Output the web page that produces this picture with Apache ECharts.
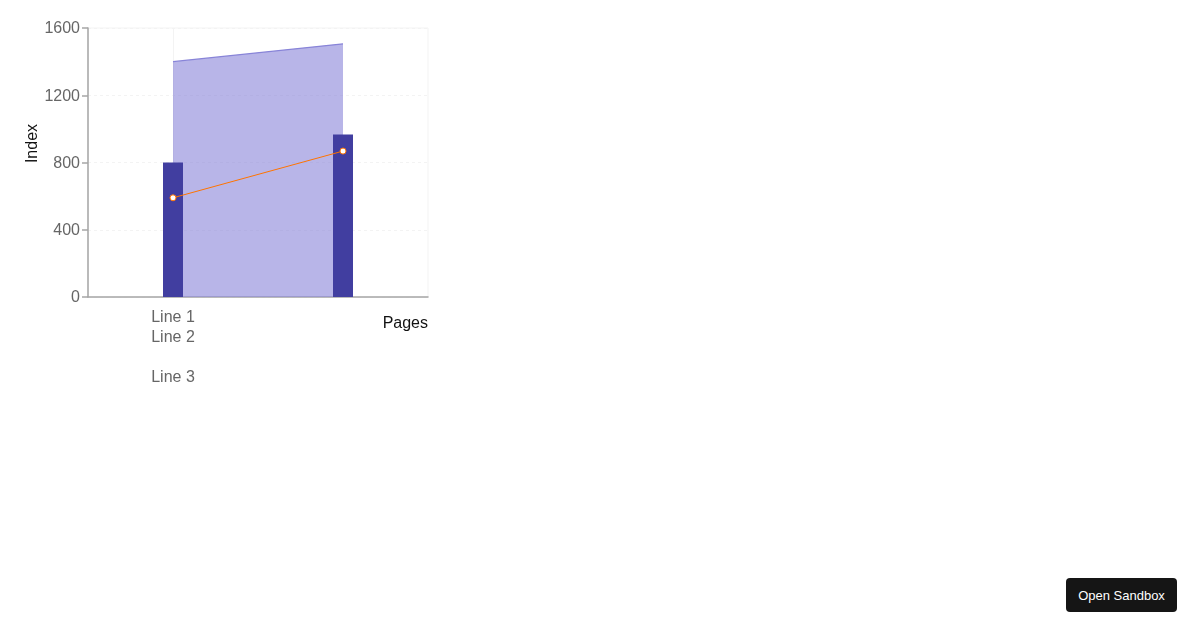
<!DOCTYPE html>
<html>
<head>
<meta charset="utf-8">
<script src="https://cdn.jsdelivr.net/npm/echarts@6/dist/echarts.min.js"></script>
<style>
    html, body { margin: 0; padding: 0; background: #fff; }
    #myChart { position: absolute; left: 0; top: 0; width: 1200px; height: 630px; }
    #sandboxBtn {
        position: absolute; left: 1066px; top: 578px; width: 111px; height: 34px;
        background: #151515; color: #fff; border: none; border-radius: 4px;
        font-family: "Liberation Sans", Arial, sans-serif; font-size: 13px;
    }
</style>
</head>
<body>
<div id="myChart"></div>
<button id="sandboxBtn">Open Sandbox</button>
<script>
const categories = ["Page A", "Page B"];
const tickLabels = ["Line 1\nLine 2\n\nLine 3", ""];
const amtValues = [1400, 1506];
const pvValues = [800, 967];
const uvValues = [590, 868];

const graphElem = document.getElementById("myChart");
const myChart = echarts.init(graphElem, null, { width: 1200, height: 630 });

const font = "'Liberation Sans', Arial, sans-serif";
const axisColor = "#a6a6a6";

const options = {
    animation: false,
    grid: {
        left: 88,
        top: 28,
        width: 340,
        height: 269,
        show: true,
        borderColor: "#f3f3f3",
        borderWidth: 1,
    },
    xAxis: {
        type: "category",
        data: categories,
        boundaryGap: true,
        name: "Pages",
        nameLocation: "end",
        nameGap: 0,
        nameTextStyle: {
            color: "#111",
            fontFamily: font,
            fontSize: 16,
            align: "right",
            verticalAlign: "top",
            padding: [19, 0, 0, 0],
        },
        axisLine: { lineStyle: { color: axisColor, width: 1.5 } },
        axisTick: {
            alignWithLabel: true,
            length: 6,
            interval: (index) => index === 0,
            lineStyle: { color: axisColor, width: 1.5 },
        },
        axisLabel: {
            color: "#666",
            fontFamily: font,
            fontSize: 16,
            lineHeight: 20,
            margin: 11,
            interval: 0,
            formatter: (value, index) => tickLabels[index],
        },
        splitLine: {
            show: true,
            alignWithLabel: true,
            interval: (index) => index === 0,
            lineStyle: { color: "#f3f3f3", width: 1 },
        },
    },
    yAxis: {
        type: "value",
        min: 0,
        max: 1600,
        interval: 400,
        name: "Index",
        nameLocation: "middle",
        nameRotate: 90,
        nameGap: 42,
        nameTextStyle: {
            color: "#111",
            fontFamily: font,
            fontSize: 16,
            padding: [0, 0, 0, 38],
        },
        axisLine: { show: true, lineStyle: { color: axisColor, width: 1.5 } },
        axisTick: { show: true, length: 6, lineStyle: { color: axisColor, width: 1.5 } },
        axisLabel: {
            color: "#666",
            fontFamily: font,
            fontSize: 16,
            margin: 8,
            verticalAlign: "top",
            padding: [-7, 0, 0, 0],
            formatter: (value) => String(value),
        },
        splitLine: { lineStyle: { color: "#f3f3f3", type: [3, 3], width: 1 } },
    },
    series: [
        {
            name: "amt",
            type: "line",
            data: amtValues,
            symbol: "none",
            z: 1,
            lineStyle: { color: "#8884d8", width: 1.2 },
            areaStyle: { color: "#8884d8", opacity: 0.6 },
        },
        {
            name: "pv",
            type: "bar",
            data: pvValues,
            barWidth: 20,
            z: 3,
            itemStyle: { color: "#413ea0" },
        },
        {
            name: "uv",
            type: "line",
            data: uvValues,
            symbol: "circle",
            symbolSize: 6,
            showSymbol: true,
            z: 4,
            lineStyle: { color: "#ff7300", width: 1 },
            itemStyle: { color: "#fff", borderColor: "#ff7300", borderWidth: 1 },
        },
    ],
};

myChart.setOption(options);
</script>
</body>
</html>
